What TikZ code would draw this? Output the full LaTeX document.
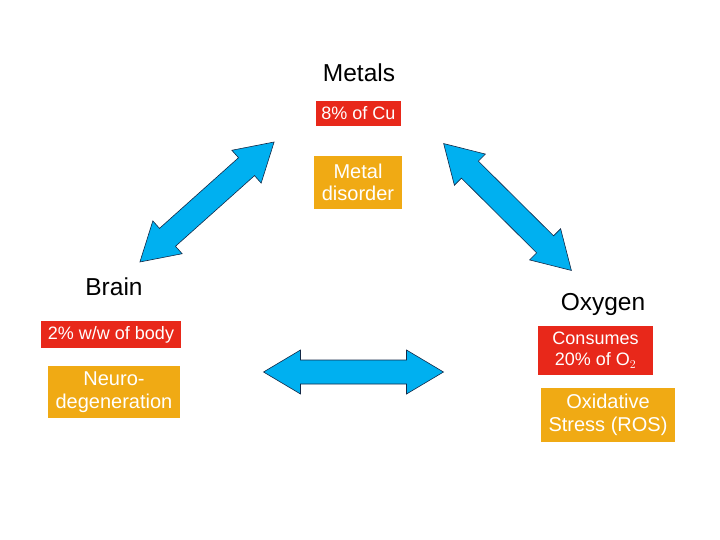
\documentclass[tikz,border=0pt]{standalone}
\usepackage{fontspec}
\setmainfont{Liberation Sans}
\begin{document}
\begin{tikzpicture}[x=1pt,y=-1pt,
  title/.style={font=\fontsize{24.5}{26}\selectfont},
  redbox/.style={fill={rgb,255:red,232;green,40;blue,26},text=white,inner sep=0pt,align=center,font=\fontsize{18}{20}\selectfont},
  orbox/.style={fill={rgb,255:red,240;green,170;blue,20},text=white,inner sep=0pt,align=center,font=\fontsize{20}{22.5}\selectfont},
  arrowsty/.style={fill={rgb,255:red,0;green,176;blue,240},draw={rgb,255:red,20;green,40;blue,70},line width=0.6pt,line join=miter},
  dbl/.pic={\draw[arrowsty] (-90,0) -- (-53,-22) -- (-53,-12) -- (53,-12) -- (53,-22) -- (90,0) -- (53,22) -- (53,12) -- (-53,12) -- (-53,22) -- cycle;}]
\useasboundingbox (0,0) rectangle (720,540);
\node[title] (metals) at (359,73) {Metals};
\node[redbox,minimum width=85pt,minimum height=25pt] (cu) at (358.5,113.5) {8\% of Cu};
\node[orbox,minimum width=88pt,minimum height=53pt] (md) at (358,182.5) {Metal\\disorder};
\node[title] (brain) at (114,287) {Brain};
\node[redbox,minimum width=140pt,minimum height=27pt] (ww) at (111,334.5) {2\% w/w of body};
\node[orbox,minimum width=132pt,minimum height=52pt] (nd) at (114,392) {Neuro-\\degeneration};
\node[title] (oxy) at (603,304) {Oxygen};
\node[redbox,minimum width=115pt,minimum height=49pt,font=\fontsize{18}{21}\selectfont] (cons) at (595.5,350.5) {Consumes\\20\% of O$_2$};
\node[orbox,minimum width=134pt,minimum height=54pt] (ros) at (608,415) {Oxidative\\Stress (ROS)};
\pic[rotate=41.8] (a1) at (207,202) {dbl};
\pic[rotate=-44.8] (a2) at (507.5,207) {dbl};
\pic (a3) at (353.5,372) {dbl};
\end{tikzpicture}
\end{document}
